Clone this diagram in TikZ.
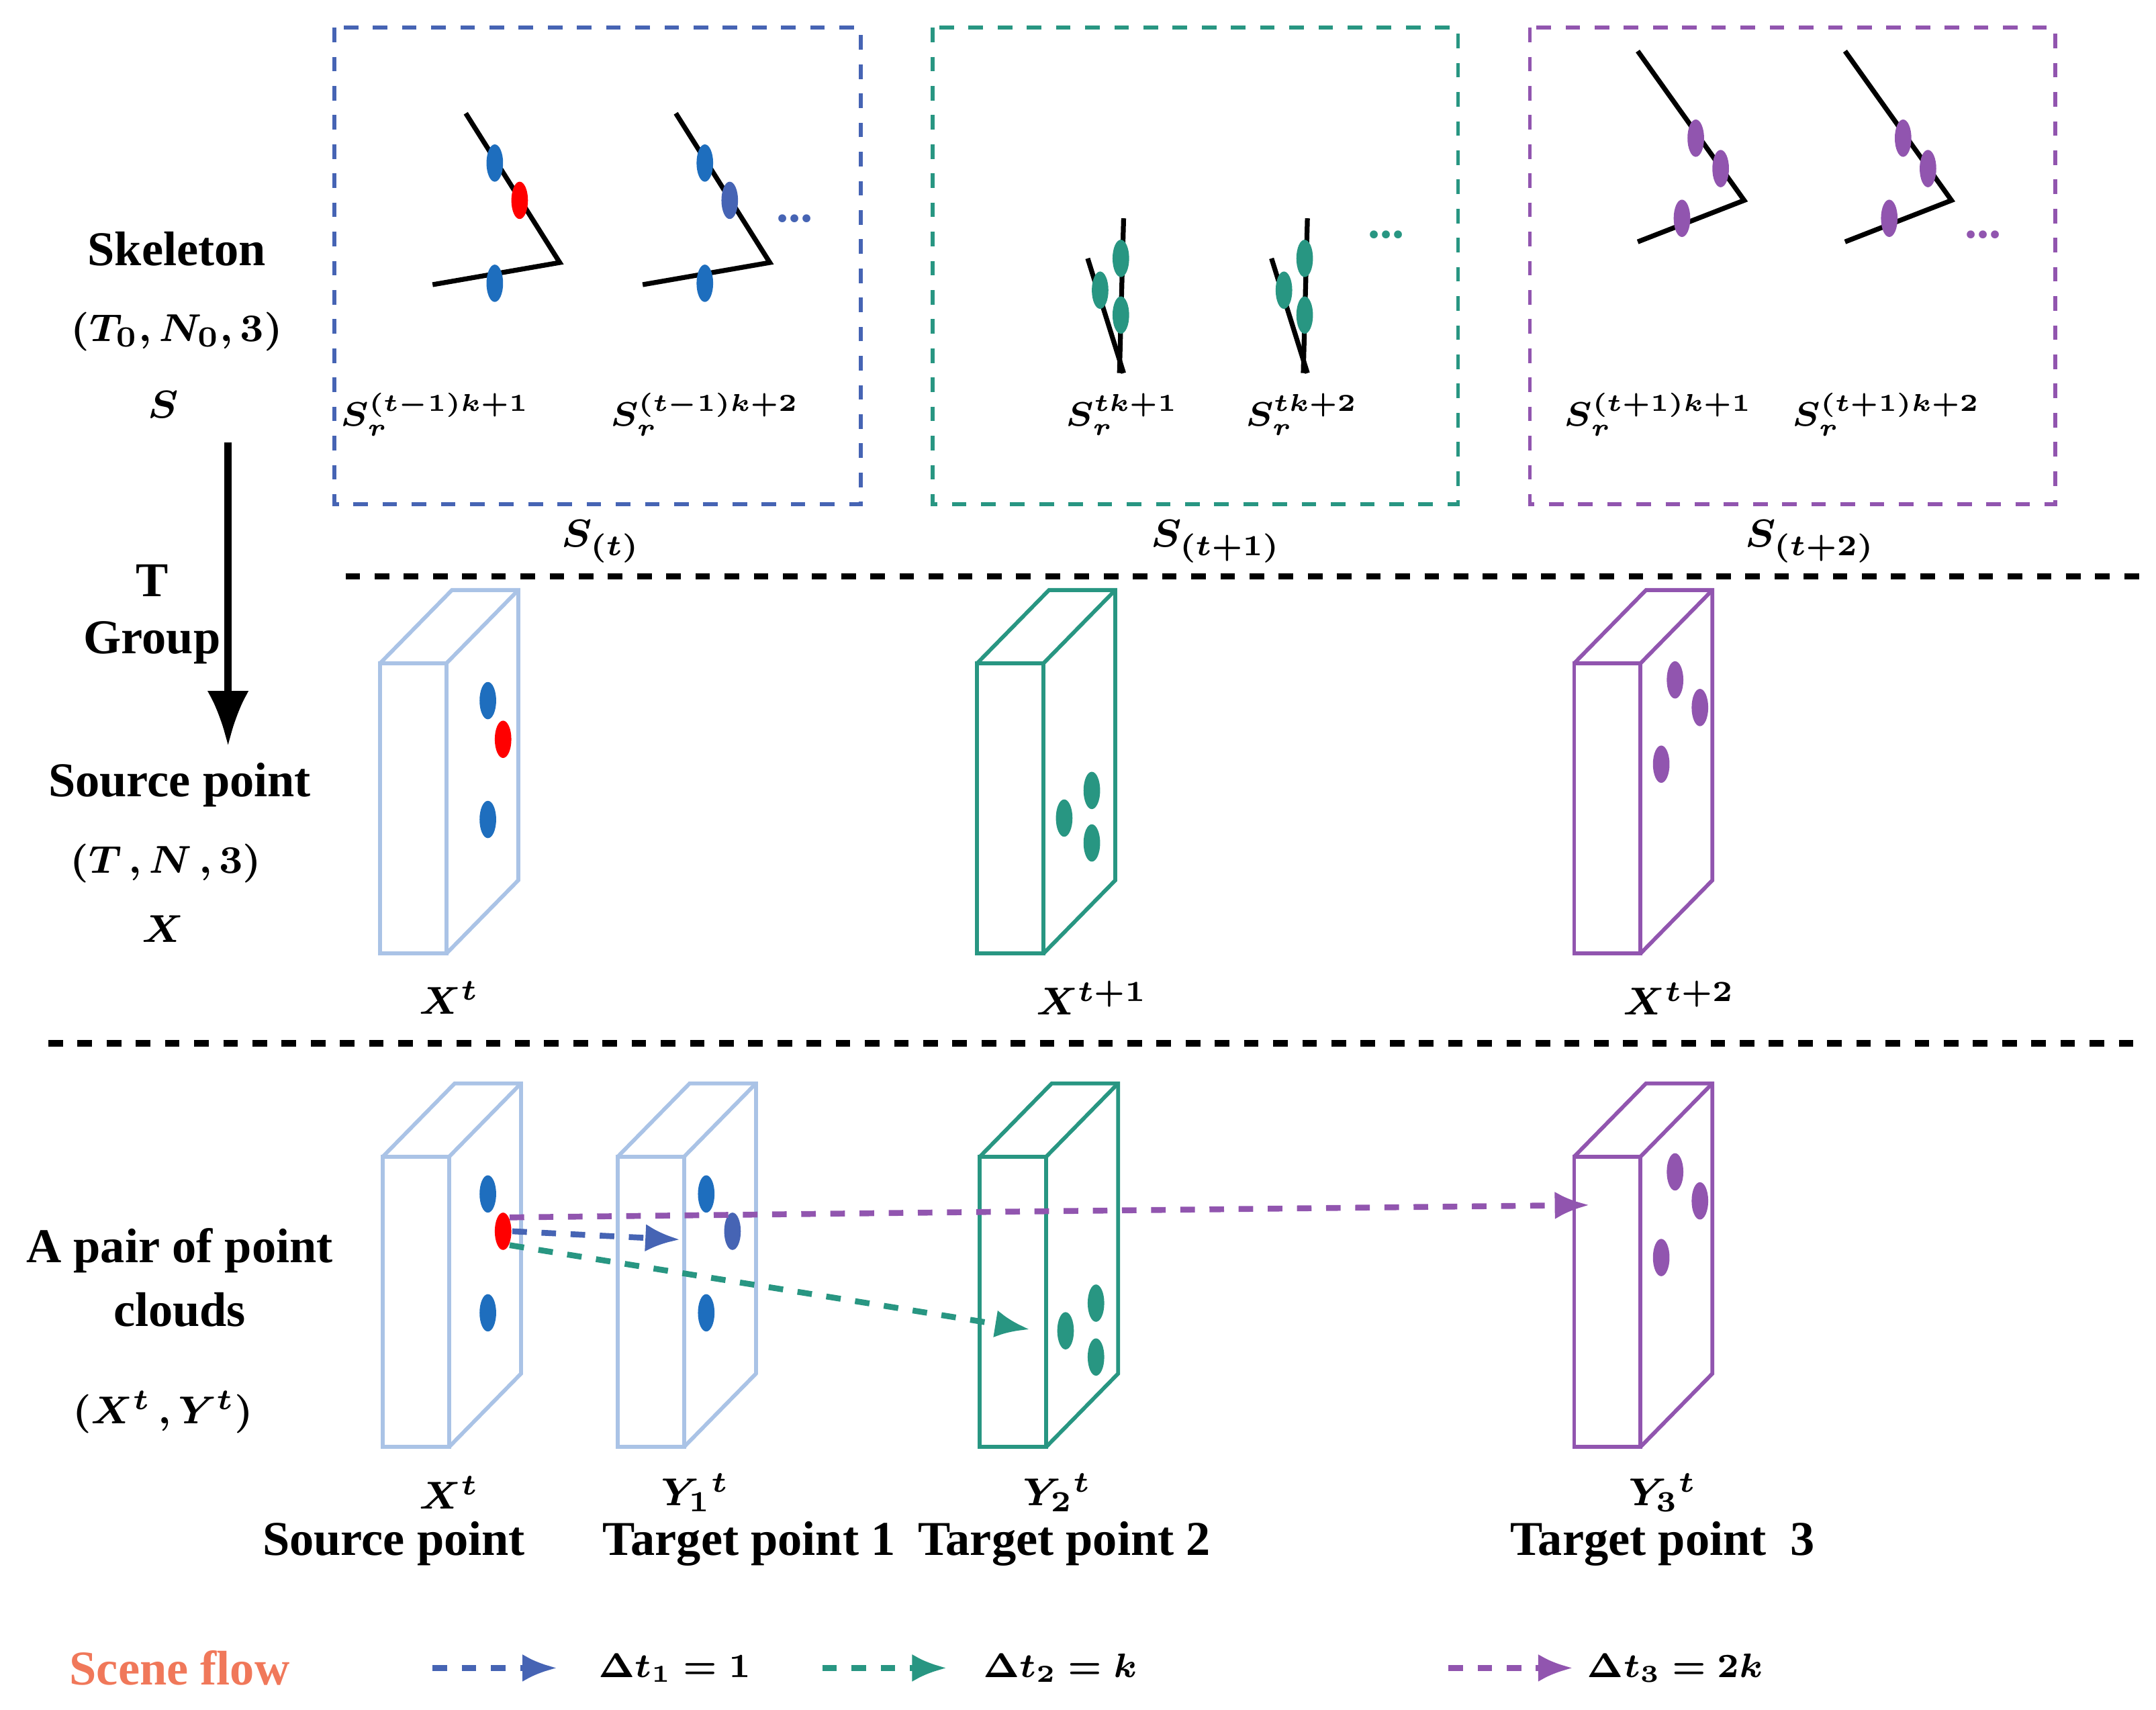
\documentclass[tikz,border=0pt]{standalone}
\usepackage{amsmath,bm}
\usepackage{fontspec}
\setmainfont{Liberation Serif}
\usetikzlibrary{shapes.geometric,arrows.meta}
\definecolor{dotblue}{RGB}{30,110,190}
\definecolor{boxblue}{RGB}{70,100,180}
\definecolor{lightblue}{RGB}{170,195,230}
\definecolor{tealc}{RGB}{40,150,130}
\definecolor{purp}{RGB}{145,85,175}
\definecolor{coral}{RGB}{240,120,90}
\tikzset{
  txt/.style={font=\fontsize{10}{12}\selectfont\bfseries},
  mtxt/.style={font=\fontsize{8.5}{10}\selectfont\bfseries},
  stxt/.style={font=\fontsize{7.5}{9}\selectfont\bfseries},
  dot/.style={ellipse, fill=#1, minimum width=0.12cm, minimum height=0.27cm, inner sep=0pt},
  frame/.style={draw=#1, dashed, thick},
  cube/.style={draw=#1, line width=0.8pt},
  flow/.style={#1, dashed, line width=1.2pt, -{Latex[length=2.5mm,width=2mm]}},
  sk/.style={line width=1pt}
}
% cuboid: front rectangle at (#1,#2) to (#1+48,#2+210)
\newcommand{\cuboid}[3]{%
  \draw[cube=#3] (#1,#2) rectangle ++(48,210);
  \draw[cube=#3] (#1,#2) -- ++(52,-53) -- ++(48,0) -- ++(0,210) -- ++(-52,53);
  \draw[cube=#3] (#1+48,#2) -- ++(52,-53);}
\begin{document}
\begin{tikzpicture}[x=0.01cm,y=-0.01cm]
  \useasboundingbox (0,0) rectangle (1560,1237);

  % skeleton frames
  \draw[frame=boxblue] (242,20) rectangle (623,365);
  \draw[frame=tealc] (675,20) rectangle (1055,365);
  \draw[frame=purp] (1107,20) rectangle (1487,365);
  \node[mtxt] (st0) at (435,392) {$\bm{S_{(t)}}$};
  \node[mtxt] (st1) at (880,392) {$\bm{S_{(t+1)}}$};
  \node[mtxt] (st2) at (1310,392) {$\bm{S_{(t+2)}}$};

  % separators
  \draw[dashed, line width=1.3pt] (250,417) -- (1550,417);
  \draw[dashed, line width=1.3pt] (35,755) -- (1550,755);

  % left labels
  \node[txt] (skl) at (128,180) {Skeleton};
  \node[mtxt] (skd) at (128,240) {$\bm{(T_0,N_0,3)}$};
  \node[mtxt] (sks) at (118,293) {$\bm{S}$};
  \node[txt] (tg1) at (110,420) {T};
  \node[txt] (tg2) at (110,465) {Group};
  \coordinate (ga) at (165,320);
  \coordinate (gb) at (165,540);
  \draw[line width=1.5pt, -{Latex[length=4mm,width=3mm]}] (ga) -- (gb);
  \node[txt] (spl) at (130,568) {Source point};
  \node[mtxt] (spd) at (120,625) {$\bm{(T\,,N\,,3)}$};
  \node[mtxt] (spx) at (118,672) {$\bm{X}$};
  \node[txt] (pp1) at (130,905) {A pair of point};
  \node[txt] (pp2) at (130,948) {clouds};
  \node[mtxt] (ppd) at (118,1022) {$\bm{(X^t\,,Y^t)}$};

  % skeletons, frame 1
  \foreach \dx in {0,152} {
    \draw[sk] (337+\dx,82) -- (405+\dx,190) -- (313+\dx,206);
    \node[dot=dotblue] at (358+\dx,118) {};
    \node[dot=dotblue] at (358+\dx,205) {};
  }
  \node[dot=red] at (376,145) {};
  \node[dot=boxblue] at (528,145) {};
  \node[txt, text=boxblue] at (575,158) {...};
  % frame 2
  \foreach \dx in {0,133} {
    \draw[sk] (813+\dx,158) -- (810+\dx,270);
    \draw[sk] (787+\dx,187) -- (813+\dx,270);
    \node[dot=tealc] at (811+\dx,187) {};
    \node[dot=tealc] at (796+\dx,210) {};
    \node[dot=tealc] at (811+\dx,228) {};
  }
  \node[txt, text=tealc] at (1003,170) {...};
  % frame 3
  \foreach \dx in {0,150} {
    \draw[sk] (1185+\dx,37) -- (1262+\dx,145) -- (1185+\dx,175);
    \node[dot=purp] at (1227+\dx,100) {};
    \node[dot=purp] at (1245+\dx,122) {};
    \node[dot=purp] at (1217+\dx,158) {};
  }
  \node[txt, text=purp] at (1435,170) {...};
  \node[stxt] at (315,300) {$\bm{S_r^{(t-1)k+1}}$};
  \node[stxt] at (510,300) {$\bm{S_r^{(t-1)k+2}}$};
  \node[stxt] at (812,300) {$\bm{S_r^{tk+1}}$};
  \node[stxt] at (942,300) {$\bm{S_r^{tk+2}}$};
  \node[stxt] at (1200,300) {$\bm{S_r^{(t+1)k+1}}$};
  \node[stxt] at (1365,300) {$\bm{S_r^{(t+1)k+2}}$};

  % row 2 cuboids
  \cuboid{275}{480}{lightblue}
  \cuboid{707}{480}{tealc}
  \cuboid{1139}{480}{purp}
  \node[dot=dotblue] at (353,507) {};
  \node[dot=red] at (364,535) {};
  \node[dot=dotblue] at (353,593) {};
  \node[dot=tealc] at (790,572) {};
  \node[dot=tealc] at (770,592) {};
  \node[dot=tealc] at (790,610) {};
  \node[dot=purp] at (1212,492) {};
  \node[dot=purp] at (1230,512) {};
  \node[dot=purp] at (1202,553) {};
  \node[mtxt] at (325,722) {$\bm{X^t}$};
  \node[mtxt] at (790,722) {$\bm{X^{t+1}}$};
  \node[mtxt] at (1215,722) {$\bm{X^{t+2}}$};

  % row 3 cuboids
  \cuboid{277}{837}{lightblue}
  \cuboid{447}{837}{lightblue}
  \cuboid{709}{837}{tealc}
  \cuboid{1139}{837}{purp}
  \node[dot=dotblue] at (353,864) {};
  \node[dot=red] (src) at (364,891) {};
  \node[dot=dotblue] at (353,950) {};
  \node[dot=dotblue] at (511,864) {};
  \node[dot=boxblue] at (530,891) {};
  \node[dot=dotblue] at (511,950) {};
  \node[dot=tealc] at (793,943) {};
  \node[dot=tealc] at (771,963) {};
  \node[dot=tealc] at (793,982) {};
  \node[dot=purp] at (1212,848) {};
  \node[dot=purp] at (1230,869) {};
  \node[dot=purp] at (1202,910) {};
  \coordinate (tg1) at (492,897);
  \coordinate (tg2) at (745,962);
  \coordinate (tg3) at (1150,872);
  \draw[flow=boxblue] (src.east) -- (tg1);
  \draw[flow=tealc] (src.south east) -- (tg2);
  \draw[flow=purp] (src.north east) -- (tg3);

  \node[mtxt] at (325,1080) {$\bm{X^t}$};
  \node[mtxt] at (503,1080) {$\bm{Y_1{}^t}$};
  \node[mtxt] at (765,1080) {$\bm{Y_2{}^t}$};
  \node[mtxt] at (1203,1080) {$\bm{Y_3{}^t}$};
  \node[txt] at (285,1117) {Source point};
  \node[txt] at (542,1117) {Target point 1};
  \node[txt] at (770,1117) {Target point 2};
  \node[txt] at (1203,1117) {Target point \ 3};

  % legend
  \node[txt, text=coral] (leg) at (130,1207) {Scene flow};
  \coordinate (l1a) at (313,1207); \coordinate (l1b) at (403,1207);
  \coordinate (l2a) at (595,1207); \coordinate (l2b) at (685,1207);
  \coordinate (l3a) at (1048,1207); \coordinate (l3b) at (1138,1207);
  \draw[flow=boxblue] (l1a) -- (l1b);
  \draw[flow=tealc] (l2a) -- (l2b);
  \draw[flow=purp] (l3a) -- (l3b);
  \node[stxt] at (488,1207) {$\bm{\Delta t_1=1}$};
  \node[stxt] at (767,1207) {$\bm{\Delta t_2=k}$};
  \node[stxt] at (1212,1207) {$\bm{\Delta t_3=2k}$};
\end{tikzpicture}
\end{document}
